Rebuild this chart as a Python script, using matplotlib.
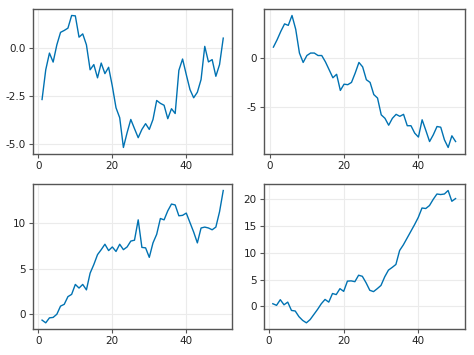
import matplotlib
matplotlib.use("Agg")
import matplotlib.pyplot as plt
from matplotlib.ticker import MultipleLocator, FormatStrFormatter
import numpy as np

x = np.arange(1, 51)

walk_a = [-2.7, -1.15, -0.28, -0.75, 0.15, 0.8, 0.9, 1.02, 1.68, 1.66,
          0.55, 0.72, 0.15, -1.15, -0.88, -1.57, -0.8, -1.35, -1.02, -2.0,
          -3.13, -3.65, -5.2, -4.43, -3.74, -4.22, -4.69, -4.26, -3.96, -4.26,
          -3.74, -2.75, -2.9, -3.0, -3.7, -3.18, -3.43, -1.18, -0.59, -1.4,
          -2.18, -2.61, -2.32, -1.66, 0.07, -0.74, -0.62, -1.49, -0.88, 0.5]

walk_b = [1.1, 1.85, 2.7, 3.45, 3.3, 4.3, 2.9, 0.5, -0.45, 0.25,
          0.5, 0.5, 0.25, 0.25, -0.4, -1.2, -2.0, -1.65, -3.28, -2.65,
          -2.7, -2.47, -1.52, -0.45, -0.9, -2.2, -2.47, -3.7, -4.05, -5.75,
          -6.1, -6.8, -6.1, -5.7, -5.9, -5.7, -6.85, -6.85, -7.6, -8.0,
          -6.25, -7.33, -8.45, -7.77, -6.93, -7.0, -8.28, -9.05, -7.87, -8.45]

walk_c = [-0.7, -1.0, -0.45, -0.4, -0.05, 0.85, 1.05, 1.9, 2.15, 3.25,
          2.85, 3.25, 2.65, 4.5, 5.45, 6.55, 7.1, 7.7, 7.0, 7.4,
          6.9, 7.7, 7.1, 7.4, 8.05, 8.15, 10.4, 7.35, 7.3, 6.25,
          7.85, 8.8, 10.55, 10.4, 11.4, 12.15, 12.05, 10.85, 10.9, 11.15,
          10.1, 9.05, 7.85, 9.5, 9.6, 9.5, 9.3, 9.6, 11.3, 13.65]

walk_d = [0.5, 0.2, 1.25, 0.3, 0.8, -0.75, -0.85, -1.9, -2.6, -3.05,
          -2.45, -1.5, -0.55, 0.5, 1.3, 0.8, 2.4, 2.2, 3.3, 2.8,
          4.7, 4.75, 4.6, 5.8, 5.6, 4.4, 3.0, 2.75, 3.3, 3.9,
          5.5, 6.75, 7.25, 7.8, 10.4, 11.45, 12.7, 13.95, 15.2, 16.55,
          18.3, 18.2, 18.75, 19.9, 20.9, 20.8, 20.9, 21.55, 19.55, 20.05]

walks = [walk_a, walk_b, walk_c, walk_d]
y_steps = [2.5, 5, 5, 5]
y_formats = ['%.1f', '%d', '%d', '%d']

plt.rcParams['axes.unicode_minus'] = False
plt.rcParams['font.family'] = 'DejaVu Sans'

fig = plt.figure(figsize=(4.74, 3.55), dpi=100)

# [left, bottom, width, height] in figure fractions
boxes = [[0.0696, 0.566, 0.4205, 0.409],
         [0.5576, 0.566, 0.4228, 0.409],
         [0.0696, 0.072, 0.4205, 0.410],
         [0.5563, 0.072, 0.4241, 0.410]]

for box, walk, step, fmt in zip(boxes, walks, y_steps, y_formats):
    ax = fig.add_axes(box)
    ax.plot(x, walk, color='#0072b2', lw=1.0)
    ax.margins(0.05)
    ax.xaxis.set_major_locator(MultipleLocator(20))
    ax.yaxis.set_major_locator(MultipleLocator(step))
    ax.yaxis.set_major_formatter(FormatStrFormatter(fmt))
    ax.grid(True, color='#ebebeb', lw=0.8)
    ax.set_axisbelow(True)
    for sp in ax.spines.values():
        sp.set_color('#555555')
        sp.set_linewidth(1.0)
    ax.tick_params(direction='out', length=3, width=0.8, color='#555555',
                   labelsize=7.5, labelcolor='#222222', pad=2)

fig.savefig('out.png', dpi=100)
